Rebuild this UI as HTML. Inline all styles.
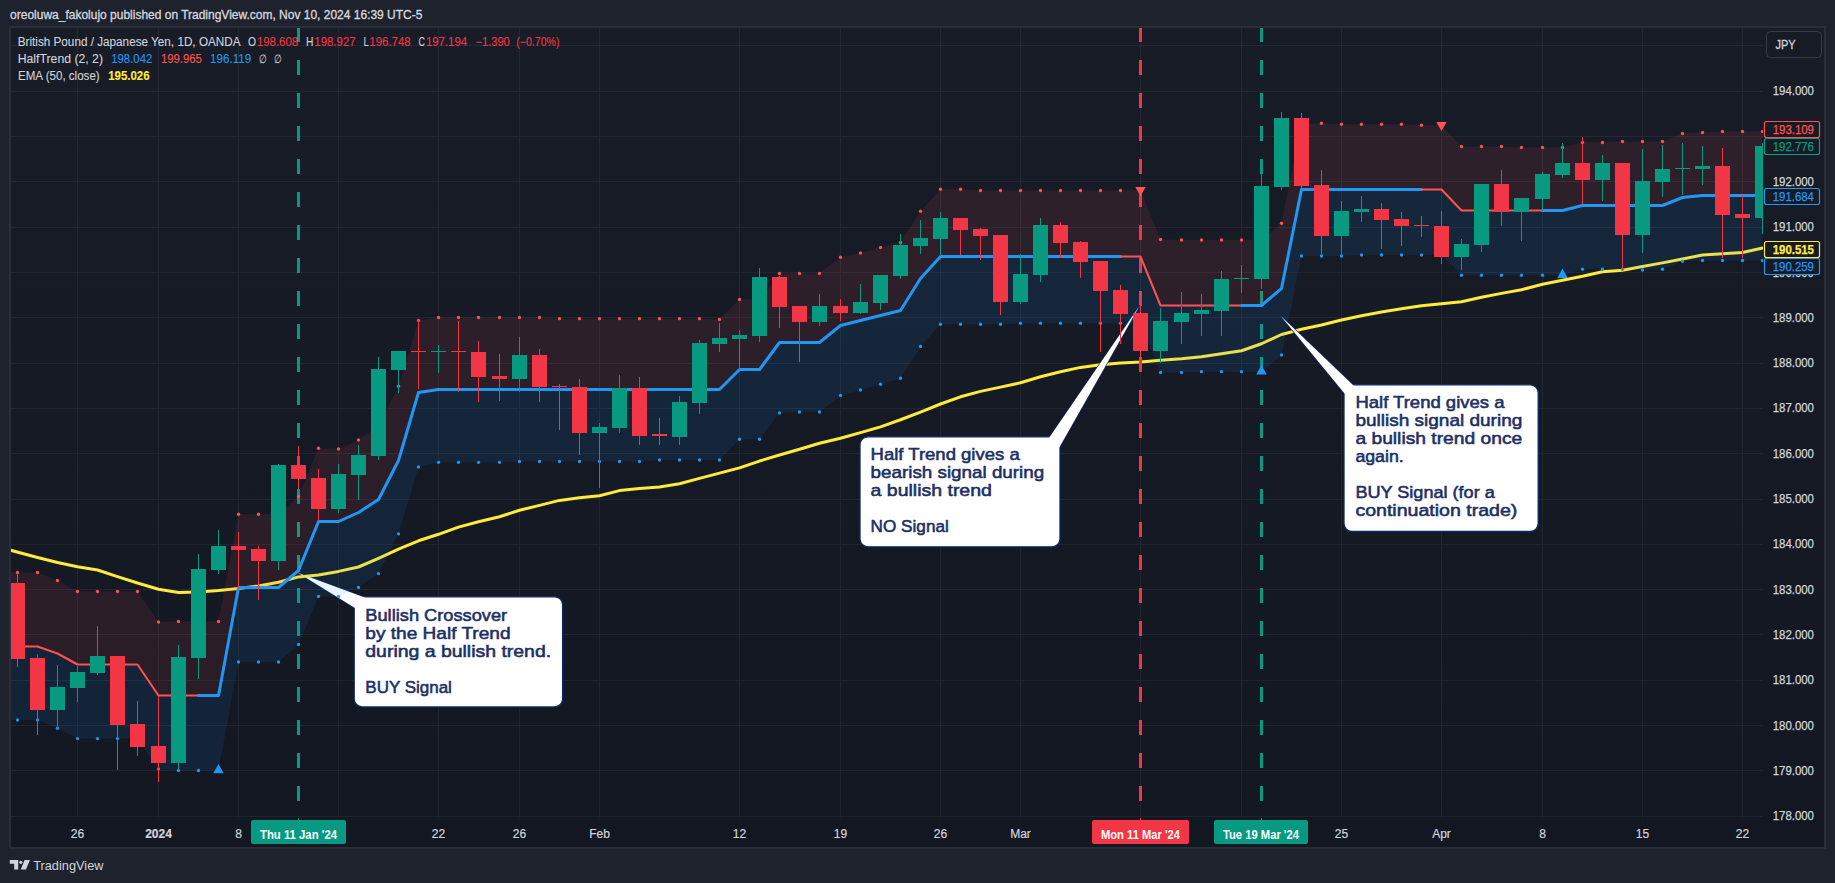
<!DOCTYPE html>
<html lang="en"><head><meta charset="utf-8"><title>GBPJPY HalfTrend chart</title>
<style>
html,body{margin:0;padding:0;background:#1e222d;}
body{width:1835px;height:883px;overflow:hidden;font-family:"Liberation Sans", sans-serif;}
svg{display:block;}
text{white-space:pre;}
</style></head><body>
<svg width="1835" height="883" viewBox="0 0 1835 883" font-family='"Liberation Sans", sans-serif'>
<defs><clipPath id="plot"><rect x="11" y="28" width="1752" height="790"/></clipPath><linearGradient id="bgg" x1="0" y1="0" x2="0" y2="1"><stop offset="0" stop-color="#181c27"/><stop offset="1" stop-color="#131722"/></linearGradient><clipPath id="plot2"><rect x="11" y="28" width="1752" height="820"/></clipPath></defs>
<rect width="1835" height="883" fill="#1e222d"/>
<rect x="10" y="27" width="1815" height="821" fill="url(#bgg)" stroke="#2a2e39" stroke-width="2"/>
<path d="M11 45h1752v1h-1752zM11 91h1752v1h-1752zM11 136h1752v1h-1752zM11 181h1752v1h-1752zM11 227h1752v1h-1752zM11 272h1752v1h-1752zM11 317h1752v1h-1752zM11 363h1752v1h-1752zM11 408h1752v1h-1752zM11 453h1752v1h-1752zM11 499h1752v1h-1752zM11 544h1752v1h-1752zM11 589h1752v1h-1752zM11 634h1752v1h-1752zM11 680h1752v1h-1752zM11 725h1752v1h-1752zM11 770h1752v1h-1752zM11 816h1752v1h-1752zM77 28h1v790h-1zM158 28h1v790h-1zM238 28h1v790h-1zM338 28h1v790h-1zM438 28h1v790h-1zM519 28h1v790h-1zM599 28h1v790h-1zM739 28h1v790h-1zM840 28h1v790h-1zM940 28h1v790h-1zM1020 28h1v790h-1zM1140 28h1v790h-1zM1241 28h1v790h-1zM1341 28h1v790h-1zM1441 28h1v790h-1zM1542 28h1v790h-1zM1642 28h1v790h-1zM1742 28h1v790h-1z" shape-rendering="crispEdges" fill="#f0f3fa" fill-opacity="0.06"/>
<g shape-rendering="crispEdges" fill="#089981"><rect x="297" y="28" width="3" height="14"/><rect x="297" y="60" width="3" height="15"/><rect x="297" y="93" width="3" height="15"/><rect x="297" y="126" width="3" height="15"/><rect x="297" y="159" width="3" height="15"/><rect x="297" y="192" width="3" height="15"/><rect x="297" y="225" width="3" height="15"/><rect x="297" y="258" width="3" height="15"/><rect x="297" y="291" width="3" height="15"/><rect x="297" y="324" width="3" height="15"/><rect x="297" y="357" width="3" height="15"/><rect x="297" y="390" width="3" height="15"/><rect x="297" y="423" width="3" height="15"/><rect x="297" y="456" width="3" height="15"/><rect x="297" y="489" width="3" height="15"/><rect x="297" y="522" width="3" height="15"/><rect x="297" y="555" width="3" height="15"/><rect x="297" y="588" width="3" height="15"/><rect x="297" y="621" width="3" height="15"/><rect x="297" y="654" width="3" height="15"/><rect x="297" y="687" width="3" height="15"/><rect x="297" y="720" width="3" height="15"/><rect x="297" y="753" width="3" height="15"/><rect x="297" y="786" width="3" height="15"/></g>
<polygon points="298.3,573.0 366,598 355,608" fill="#ffffff" stroke="#0f2764" stroke-width="1.3" stroke-linejoin="round"/>
<rect x="354.2" y="596.8" width="208.40000000000003" height="110.10000000000002" rx="8" ry="8" fill="#ffffff" stroke="#0f2764" stroke-width="1.3"/>
<polygon points="298.3,573.0 366,598 355,608" fill="#ffffff"/>
<g font-size="16.6" fill="#1b2f66" stroke="#1b2f66" stroke-width="0.55">
<text x="365.3" y="620.6" textLength="141.9" lengthAdjust="spacingAndGlyphs">Bullish Crossover</text>
<text x="365.3" y="638.6" textLength="145.2" lengthAdjust="spacingAndGlyphs">by the Half Trend</text>
<text x="365.3" y="656.6" textLength="185.8" lengthAdjust="spacingAndGlyphs">during a bullish trend.</text>
<text x="365.3" y="692.6" textLength="86.6" lengthAdjust="spacingAndGlyphs">BUY Signal</text>
</g>
<g clip-path="url(#plot)">
<polyline points="-10.0,545.00 10.8,550.30 37.5,557.50 57.5,562.50 77.5,566.70 97.5,570.00 117.5,576.60 137.5,583.00 158.5,589.20 178.5,592.60 198.5,591.90 218.5,590.50 238.5,588.60 258.5,586.00 278.5,582.20 298.5,576.90 318.5,575.00 338.5,571.40 358.5,567.00 378.5,558.30 398.5,549.10 418.5,540.80 438.5,534.30 458.5,527.10 478.5,521.70 499.5,516.80 519.5,510.30 539.5,505.40 559.5,500.40 579.5,497.80 599.5,495.70 619.5,490.60 639.5,488.50 659.5,487.00 679.5,483.75 699.5,478.40 719.5,473.10 739.5,467.90 759.5,461.05 779.5,455.05 799.5,449.30 819.5,443.30 840.5,438.30 860.5,432.60 880.5,426.85 900.5,419.75 920.5,412.05 940.5,404.00 960.5,396.80 980.5,391.40 1000.5,387.15 1020.5,382.80 1040.5,376.75 1060.5,371.75 1080.5,367.40 1100.5,364.70 1120.5,362.90 1140.5,362.10 1160.5,360.20 1181.5,358.70 1201.5,356.70 1221.5,353.75 1241.5,350.75 1261.5,343.75 1281.5,334.50 1301.5,329.25 1321.5,325.00 1341.5,320.00 1361.5,315.75 1381.5,312.00 1401.5,308.75 1421.5,305.75 1441.5,303.75 1461.5,301.75 1481.5,297.25 1501.5,293.40 1521.5,289.75 1542.5,284.25 1562.5,280.20 1582.5,276.25 1602.5,271.75 1622.5,270.20 1642.5,266.60 1662.5,262.90 1682.5,259.00 1702.5,255.00 1722.5,253.75 1742.5,252.50 1762.5,248.00 1775.0,244.50" fill="none" stroke="#ffeb3b" stroke-width="3" stroke-linejoin="round" stroke-linecap="round"/>
</g>
<g shape-rendering="crispEdges" fill="#f23645"><rect x="1139" y="28" width="3" height="14"/><rect x="1139" y="60" width="3" height="15"/><rect x="1139" y="93" width="3" height="15"/><rect x="1139" y="126" width="3" height="15"/><rect x="1139" y="159" width="3" height="15"/><rect x="1139" y="192" width="3" height="15"/><rect x="1139" y="225" width="3" height="15"/><rect x="1139" y="258" width="3" height="15"/><rect x="1139" y="291" width="3" height="15"/><rect x="1139" y="324" width="3" height="15"/><rect x="1139" y="357" width="3" height="15"/><rect x="1139" y="390" width="3" height="15"/><rect x="1139" y="423" width="3" height="15"/><rect x="1139" y="456" width="3" height="15"/><rect x="1139" y="489" width="3" height="15"/><rect x="1139" y="522" width="3" height="15"/><rect x="1139" y="555" width="3" height="15"/><rect x="1139" y="588" width="3" height="15"/><rect x="1139" y="621" width="3" height="15"/><rect x="1139" y="654" width="3" height="15"/><rect x="1139" y="687" width="3" height="15"/><rect x="1139" y="720" width="3" height="15"/><rect x="1139" y="753" width="3" height="15"/><rect x="1139" y="786" width="3" height="15"/></g>
<g shape-rendering="crispEdges" fill="#089981"><rect x="1260" y="28" width="3" height="14"/><rect x="1260" y="60" width="3" height="15"/><rect x="1260" y="93" width="3" height="15"/><rect x="1260" y="126" width="3" height="15"/><rect x="1260" y="159" width="3" height="15"/><rect x="1260" y="192" width="3" height="15"/><rect x="1260" y="225" width="3" height="15"/><rect x="1260" y="258" width="3" height="15"/><rect x="1260" y="291" width="3" height="15"/><rect x="1260" y="324" width="3" height="15"/><rect x="1260" y="357" width="3" height="15"/><rect x="1260" y="390" width="3" height="15"/><rect x="1260" y="423" width="3" height="15"/><rect x="1260" y="456" width="3" height="15"/><rect x="1260" y="489" width="3" height="15"/><rect x="1260" y="522" width="3" height="15"/><rect x="1260" y="555" width="3" height="15"/><rect x="1260" y="588" width="3" height="15"/><rect x="1260" y="621" width="3" height="15"/><rect x="1260" y="654" width="3" height="15"/><rect x="1260" y="687" width="3" height="15"/><rect x="1260" y="720" width="3" height="15"/><rect x="1260" y="753" width="3" height="15"/><rect x="1260" y="786" width="3" height="15"/></g>
<polygon points="1139.6,305.8 1049,438 1059,448" fill="#ffffff" stroke="#0f2764" stroke-width="1.3" stroke-linejoin="round"/>
<rect x="860.0" y="436.8" width="200.0" height="109.99999999999994" rx="8" ry="8" fill="#ffffff" stroke="#0f2764" stroke-width="1.3"/>
<polygon points="1139.6,305.8 1049,438 1059,448" fill="#ffffff"/>
<g font-size="16.6" fill="#1b2f66" stroke="#1b2f66" stroke-width="0.55">
<text x="870.6" y="460.3" textLength="149.1" lengthAdjust="spacingAndGlyphs">Half Trend gives a</text>
<text x="870.6" y="478.3" textLength="173.6" lengthAdjust="spacingAndGlyphs">bearish signal during</text>
<text x="870.6" y="496.3" textLength="121.3" lengthAdjust="spacingAndGlyphs">a bullish trend</text>
<text x="870.6" y="532.3" textLength="78.2" lengthAdjust="spacingAndGlyphs">NO Signal</text>
</g>
<polygon points="1280.8,316.0 1354,386 1345,394" fill="#ffffff" stroke="#0f2764" stroke-width="1.3" stroke-linejoin="round"/>
<rect x="1344.0" y="384.8" width="194.20000000000005" height="146.7" rx="8" ry="8" fill="#ffffff" stroke="#0f2764" stroke-width="1.3"/>
<polygon points="1280.8,316.0 1354,386 1345,394" fill="#ffffff"/>
<g font-size="16.6" fill="#1b2f66" stroke="#1b2f66" stroke-width="0.55">
<text x="1355.4" y="408.3" textLength="149.1" lengthAdjust="spacingAndGlyphs">Half Trend gives a</text>
<text x="1355.4" y="426.3" textLength="166.9" lengthAdjust="spacingAndGlyphs">bullish signal during</text>
<text x="1355.4" y="444.3" textLength="166.9" lengthAdjust="spacingAndGlyphs">a bullish trend once</text>
<text x="1355.4" y="462.3" textLength="48.3" lengthAdjust="spacingAndGlyphs">again.</text>
<text x="1355.4" y="498.3" textLength="139.4" lengthAdjust="spacingAndGlyphs">BUY Signal (for a</text>
<text x="1355.4" y="516.3" textLength="162.0" lengthAdjust="spacingAndGlyphs">continuation trade)</text>
</g>
<g clip-path="url(#plot)">
<polygon points="-2.5,646.50 17.5,646.50 37.5,646.50 57.5,653.50 77.5,664.50 97.5,664.50 117.5,664.50 137.5,664.50 158.5,695.50 178.5,695.50 198.5,695.50 218.5,695.50 238.5,587.50 258.5,587.50 278.5,587.50 298.5,570.50 318.5,521.50 338.5,521.50 358.5,512.50 378.5,499.50 398.5,460.50 418.5,392.50 438.5,389.50 458.5,389.50 478.5,389.50 499.5,389.50 519.5,389.50 539.5,389.50 559.5,389.50 579.5,389.50 599.5,389.50 619.5,389.50 639.5,389.50 659.5,389.50 679.5,389.50 699.5,389.50 719.5,389.50 739.5,369.50 759.5,369.50 779.5,342.50 799.5,342.50 819.5,342.50 840.5,325.50 860.5,320.50 880.5,315.50 900.5,310.50 920.5,278.50 940.5,256.50 960.5,256.50 980.5,256.50 1000.5,256.50 1020.5,256.50 1040.5,256.50 1060.5,256.50 1080.5,256.50 1100.5,256.50 1120.5,256.50 1140.5,256.50 1160.5,305.50 1181.5,305.50 1201.5,305.50 1221.5,305.50 1241.5,305.50 1261.5,305.50 1281.5,288.50 1301.5,189.50 1321.5,189.50 1341.5,189.50 1361.5,189.50 1381.5,189.50 1401.5,189.50 1421.5,189.50 1441.5,189.50 1461.5,210.50 1481.5,210.50 1501.5,210.50 1521.5,210.50 1542.5,210.50 1562.5,210.50 1582.5,205.50 1602.5,205.50 1622.5,205.50 1642.5,205.50 1662.5,205.50 1682.5,197.50 1702.5,195.50 1722.5,195.50 1742.5,195.50 1762.5,195.50 1762.5,131.50 1742.5,131.50 1722.5,131.50 1702.5,132.50 1682.5,133.50 1662.5,141.50 1642.5,141.50 1622.5,141.50 1602.5,142.50 1582.5,142.50 1562.5,147.50 1542.5,147.50 1521.5,147.50 1501.5,146.50 1481.5,146.50 1461.5,146.50 1441.5,125.50 1421.5,125.25 1401.5,124.25 1381.5,124.25 1361.5,124.25 1341.5,124.25 1321.5,123.25 1301.5,123.25 1281.5,223.25 1261.5,240.00 1241.5,240.00 1221.5,240.00 1201.5,240.00 1181.5,240.00 1160.5,239.50 1140.5,190.50 1120.5,190.50 1100.5,190.50 1080.5,190.50 1060.5,190.50 1040.5,190.50 1020.5,190.50 1000.5,190.50 980.5,190.50 960.5,189.25 940.5,189.25 920.5,211.25 900.5,242.50 880.5,247.50 860.5,253.00 840.5,257.25 819.5,273.50 799.5,273.50 779.5,273.50 759.5,299.50 739.5,299.50 719.5,319.50 699.5,318.70 679.5,318.70 659.5,318.70 639.5,318.70 619.5,318.70 599.5,318.70 579.5,318.70 559.5,318.70 539.5,317.50 519.5,317.50 499.5,317.50 478.5,317.50 458.5,317.50 438.5,317.50 418.5,320.50 398.5,386.25 378.5,426.00 358.5,440.00 338.5,449.00 318.5,448.25 298.5,496.50 278.5,514.25 258.5,514.25 238.5,514.25 218.5,621.50 198.5,621.50 178.5,621.50 158.5,622.00 137.5,591.50 117.5,591.50 97.5,591.50 77.5,591.50 57.5,580.50 37.5,572.50 17.5,572.50 -2.5,572.50" fill="rgb(255,82,82)" fill-opacity="0.1"/>
<polygon points="-2.5,646.50 17.5,646.50 37.5,646.50 57.5,653.50 77.5,664.50 97.5,664.50 117.5,664.50 137.5,664.50 158.5,695.50 178.5,695.50 198.5,695.50 218.5,695.50 238.5,587.50 258.5,587.50 278.5,587.50 298.5,570.50 318.5,521.50 338.5,521.50 358.5,512.50 378.5,499.50 398.5,460.50 418.5,392.50 438.5,389.50 458.5,389.50 478.5,389.50 499.5,389.50 519.5,389.50 539.5,389.50 559.5,389.50 579.5,389.50 599.5,389.50 619.5,389.50 639.5,389.50 659.5,389.50 679.5,389.50 699.5,389.50 719.5,389.50 739.5,369.50 759.5,369.50 779.5,342.50 799.5,342.50 819.5,342.50 840.5,325.50 860.5,320.50 880.5,315.50 900.5,310.50 920.5,278.50 940.5,256.50 960.5,256.50 980.5,256.50 1000.5,256.50 1020.5,256.50 1040.5,256.50 1060.5,256.50 1080.5,256.50 1100.5,256.50 1120.5,256.50 1140.5,256.50 1160.5,305.50 1181.5,305.50 1201.5,305.50 1221.5,305.50 1241.5,305.50 1261.5,305.50 1281.5,288.50 1301.5,189.50 1321.5,189.50 1341.5,189.50 1361.5,189.50 1381.5,189.50 1401.5,189.50 1421.5,189.50 1441.5,189.50 1461.5,210.50 1481.5,210.50 1501.5,210.50 1521.5,210.50 1542.5,210.50 1562.5,210.50 1582.5,205.50 1602.5,205.50 1622.5,205.50 1642.5,205.50 1662.5,205.50 1682.5,197.50 1702.5,195.50 1722.5,195.50 1742.5,195.50 1762.5,195.50 1762.5,260.50 1742.5,260.50 1722.5,260.50 1702.5,260.50 1682.5,261.25 1662.5,269.25 1642.5,270.00 1622.5,269.25 1602.5,269.25 1582.5,269.25 1562.5,275.25 1542.5,275.25 1521.5,275.25 1501.5,275.25 1481.5,275.25 1461.5,275.25 1441.5,255.00 1421.5,255.00 1401.5,255.00 1381.5,255.00 1361.5,255.00 1341.5,256.00 1321.5,256.00 1301.5,256.00 1281.5,355.00 1261.5,371.70 1241.5,371.70 1221.5,371.70 1201.5,371.70 1181.5,372.50 1160.5,372.50 1140.5,323.25 1120.5,323.25 1100.5,323.25 1080.5,323.25 1060.5,323.25 1040.5,323.25 1020.5,323.25 1000.5,324.25 980.5,324.25 960.5,324.25 940.5,324.25 920.5,346.50 900.5,378.25 880.5,384.25 860.5,390.00 840.5,395.50 819.5,412.00 799.5,412.00 779.5,413.00 759.5,439.25 739.5,439.25 719.5,460.00 699.5,460.00 679.5,460.00 659.5,460.00 639.5,461.50 619.5,461.50 599.5,461.50 579.5,461.50 559.5,461.50 539.5,461.50 519.5,461.50 499.5,462.30 478.5,462.30 458.5,462.30 438.5,462.30 418.5,467.00 398.5,533.80 378.5,573.60 358.5,587.50 338.5,596.40 318.5,596.40 298.5,644.50 278.5,662.00 258.5,662.00 238.5,662.00 218.5,770.50 198.5,770.50 178.5,770.50 158.5,769.00 137.5,738.60 117.5,738.60 97.5,738.60 77.5,738.60 57.5,728.25 37.5,720.00 17.5,720.00 -2.5,720.00" fill="rgb(33,150,243)" fill-opacity="0.1"/>
<g fill="#ff5252"><circle cx="17.5" cy="572.50" r="1.65"/><circle cx="37.5" cy="572.50" r="1.65"/><circle cx="57.5" cy="580.50" r="1.65"/><circle cx="77.5" cy="591.50" r="1.65"/><circle cx="97.5" cy="591.50" r="1.65"/><circle cx="117.5" cy="591.50" r="1.65"/><circle cx="137.5" cy="591.50" r="1.65"/><circle cx="158.5" cy="622.00" r="1.65"/><circle cx="178.5" cy="621.50" r="1.65"/><circle cx="198.5" cy="621.50" r="1.65"/><circle cx="218.5" cy="621.50" r="1.65"/><circle cx="238.5" cy="514.25" r="1.65"/><circle cx="258.5" cy="514.25" r="1.65"/><circle cx="278.5" cy="514.25" r="1.65"/><circle cx="298.5" cy="496.50" r="1.65"/><circle cx="318.5" cy="448.25" r="1.65"/><circle cx="338.5" cy="449.00" r="1.65"/><circle cx="358.5" cy="440.00" r="1.65"/><circle cx="378.5" cy="426.00" r="1.65"/><circle cx="398.5" cy="386.25" r="1.65"/><circle cx="418.5" cy="320.50" r="1.65"/><circle cx="438.5" cy="317.50" r="1.65"/><circle cx="458.5" cy="317.50" r="1.65"/><circle cx="478.5" cy="317.50" r="1.65"/><circle cx="499.5" cy="317.50" r="1.65"/><circle cx="519.5" cy="317.50" r="1.65"/><circle cx="539.5" cy="317.50" r="1.65"/><circle cx="559.5" cy="318.70" r="1.65"/><circle cx="579.5" cy="318.70" r="1.65"/><circle cx="599.5" cy="318.70" r="1.65"/><circle cx="619.5" cy="318.70" r="1.65"/><circle cx="639.5" cy="318.70" r="1.65"/><circle cx="659.5" cy="318.70" r="1.65"/><circle cx="679.5" cy="318.70" r="1.65"/><circle cx="699.5" cy="318.70" r="1.65"/><circle cx="719.5" cy="319.50" r="1.65"/><circle cx="739.5" cy="299.50" r="1.65"/><circle cx="759.5" cy="299.50" r="1.65"/><circle cx="779.5" cy="273.50" r="1.65"/><circle cx="799.5" cy="273.50" r="1.65"/><circle cx="819.5" cy="273.50" r="1.65"/><circle cx="840.5" cy="257.25" r="1.65"/><circle cx="860.5" cy="253.00" r="1.65"/><circle cx="880.5" cy="247.50" r="1.65"/><circle cx="900.5" cy="242.50" r="1.65"/><circle cx="920.5" cy="211.25" r="1.65"/><circle cx="940.5" cy="189.25" r="1.65"/><circle cx="960.5" cy="189.25" r="1.65"/><circle cx="980.5" cy="190.50" r="1.65"/><circle cx="1000.5" cy="190.50" r="1.65"/><circle cx="1020.5" cy="190.50" r="1.65"/><circle cx="1040.5" cy="190.50" r="1.65"/><circle cx="1060.5" cy="190.50" r="1.65"/><circle cx="1080.5" cy="190.50" r="1.65"/><circle cx="1100.5" cy="190.50" r="1.65"/><circle cx="1120.5" cy="190.50" r="1.65"/><circle cx="1160.5" cy="239.50" r="1.65"/><circle cx="1181.5" cy="240.00" r="1.65"/><circle cx="1201.5" cy="240.00" r="1.65"/><circle cx="1221.5" cy="240.00" r="1.65"/><circle cx="1241.5" cy="240.00" r="1.65"/><circle cx="1261.5" cy="240.00" r="1.65"/><circle cx="1281.5" cy="223.25" r="1.65"/><circle cx="1301.5" cy="123.25" r="1.65"/><circle cx="1321.5" cy="123.25" r="1.65"/><circle cx="1341.5" cy="124.25" r="1.65"/><circle cx="1361.5" cy="124.25" r="1.65"/><circle cx="1381.5" cy="124.25" r="1.65"/><circle cx="1401.5" cy="124.25" r="1.65"/><circle cx="1421.5" cy="125.25" r="1.65"/><circle cx="1461.5" cy="146.50" r="1.65"/><circle cx="1481.5" cy="146.50" r="1.65"/><circle cx="1501.5" cy="146.50" r="1.65"/><circle cx="1521.5" cy="147.50" r="1.65"/><circle cx="1542.5" cy="147.50" r="1.65"/><circle cx="1562.5" cy="147.50" r="1.65"/><circle cx="1582.5" cy="142.50" r="1.65"/><circle cx="1602.5" cy="142.50" r="1.65"/><circle cx="1622.5" cy="141.50" r="1.65"/><circle cx="1642.5" cy="141.50" r="1.65"/><circle cx="1662.5" cy="141.50" r="1.65"/><circle cx="1682.5" cy="133.50" r="1.65"/><circle cx="1702.5" cy="132.50" r="1.65"/><circle cx="1722.5" cy="131.50" r="1.65"/><circle cx="1742.5" cy="131.50" r="1.65"/><circle cx="1762.5" cy="131.50" r="1.65"/></g>
<g fill="#2196f3"><circle cx="17.5" cy="720.00" r="1.65"/><circle cx="37.5" cy="720.00" r="1.65"/><circle cx="57.5" cy="728.25" r="1.65"/><circle cx="77.5" cy="738.60" r="1.65"/><circle cx="97.5" cy="738.60" r="1.65"/><circle cx="117.5" cy="738.60" r="1.65"/><circle cx="137.5" cy="738.60" r="1.65"/><circle cx="158.5" cy="769.00" r="1.65"/><circle cx="178.5" cy="770.50" r="1.65"/><circle cx="198.5" cy="770.50" r="1.65"/><circle cx="238.5" cy="662.00" r="1.65"/><circle cx="258.5" cy="662.00" r="1.65"/><circle cx="278.5" cy="662.00" r="1.65"/><circle cx="298.5" cy="644.50" r="1.65"/><circle cx="318.5" cy="596.40" r="1.65"/><circle cx="338.5" cy="596.40" r="1.65"/><circle cx="358.5" cy="587.50" r="1.65"/><circle cx="378.5" cy="573.60" r="1.65"/><circle cx="398.5" cy="533.80" r="1.65"/><circle cx="418.5" cy="467.00" r="1.65"/><circle cx="438.5" cy="462.30" r="1.65"/><circle cx="458.5" cy="462.30" r="1.65"/><circle cx="478.5" cy="462.30" r="1.65"/><circle cx="499.5" cy="462.30" r="1.65"/><circle cx="519.5" cy="461.50" r="1.65"/><circle cx="539.5" cy="461.50" r="1.65"/><circle cx="559.5" cy="461.50" r="1.65"/><circle cx="579.5" cy="461.50" r="1.65"/><circle cx="599.5" cy="461.50" r="1.65"/><circle cx="619.5" cy="461.50" r="1.65"/><circle cx="639.5" cy="461.50" r="1.65"/><circle cx="659.5" cy="460.00" r="1.65"/><circle cx="679.5" cy="460.00" r="1.65"/><circle cx="699.5" cy="460.00" r="1.65"/><circle cx="719.5" cy="460.00" r="1.65"/><circle cx="739.5" cy="439.25" r="1.65"/><circle cx="759.5" cy="439.25" r="1.65"/><circle cx="779.5" cy="413.00" r="1.65"/><circle cx="799.5" cy="412.00" r="1.65"/><circle cx="819.5" cy="412.00" r="1.65"/><circle cx="840.5" cy="395.50" r="1.65"/><circle cx="860.5" cy="390.00" r="1.65"/><circle cx="880.5" cy="384.25" r="1.65"/><circle cx="900.5" cy="378.25" r="1.65"/><circle cx="920.5" cy="346.50" r="1.65"/><circle cx="940.5" cy="324.25" r="1.65"/><circle cx="960.5" cy="324.25" r="1.65"/><circle cx="980.5" cy="324.25" r="1.65"/><circle cx="1000.5" cy="324.25" r="1.65"/><circle cx="1020.5" cy="323.25" r="1.65"/><circle cx="1040.5" cy="323.25" r="1.65"/><circle cx="1060.5" cy="323.25" r="1.65"/><circle cx="1080.5" cy="323.25" r="1.65"/><circle cx="1100.5" cy="323.25" r="1.65"/><circle cx="1120.5" cy="323.25" r="1.65"/><circle cx="1140.5" cy="323.25" r="1.65"/><circle cx="1160.5" cy="372.50" r="1.65"/><circle cx="1181.5" cy="372.50" r="1.65"/><circle cx="1201.5" cy="371.70" r="1.65"/><circle cx="1221.5" cy="371.70" r="1.65"/><circle cx="1241.5" cy="371.70" r="1.65"/><circle cx="1281.5" cy="355.00" r="1.65"/><circle cx="1301.5" cy="256.00" r="1.65"/><circle cx="1321.5" cy="256.00" r="1.65"/><circle cx="1341.5" cy="256.00" r="1.65"/><circle cx="1361.5" cy="255.00" r="1.65"/><circle cx="1381.5" cy="255.00" r="1.65"/><circle cx="1401.5" cy="255.00" r="1.65"/><circle cx="1421.5" cy="255.00" r="1.65"/><circle cx="1441.5" cy="255.00" r="1.65"/><circle cx="1461.5" cy="275.25" r="1.65"/><circle cx="1481.5" cy="275.25" r="1.65"/><circle cx="1501.5" cy="275.25" r="1.65"/><circle cx="1521.5" cy="275.25" r="1.65"/><circle cx="1542.5" cy="275.25" r="1.65"/><circle cx="1582.5" cy="269.25" r="1.65"/><circle cx="1602.5" cy="269.25" r="1.65"/><circle cx="1622.5" cy="269.25" r="1.65"/><circle cx="1642.5" cy="270.00" r="1.65"/><circle cx="1662.5" cy="269.25" r="1.65"/><circle cx="1682.5" cy="261.25" r="1.65"/><circle cx="1702.5" cy="260.50" r="1.65"/><circle cx="1722.5" cy="260.50" r="1.65"/><circle cx="1742.5" cy="260.50" r="1.65"/><circle cx="1762.5" cy="260.50" r="1.65"/></g>
<polyline points="-2.5,646.50 17.5,646.50 37.5,646.50 57.5,653.50 77.5,664.50 97.5,664.50 117.5,664.50 137.5,664.50 158.5,695.50 178.5,695.50 198.5,695.50" fill="none" stroke="#ff5252" stroke-width="2" stroke-linejoin="round" stroke-linecap="round"/>
<polyline points="198.5,695.50 218.5,695.50 238.5,587.50 258.5,587.50 278.5,587.50 298.5,570.50 318.5,521.50 338.5,521.50 358.5,512.50 378.5,499.50 398.5,460.50 418.5,392.50 438.5,389.50 458.5,389.50 478.5,389.50 499.5,389.50 519.5,389.50 539.5,389.50 559.5,389.50 579.5,389.50 599.5,389.50 619.5,389.50 639.5,389.50 659.5,389.50 679.5,389.50 699.5,389.50 719.5,389.50 739.5,369.50 759.5,369.50 779.5,342.50 799.5,342.50 819.5,342.50 840.5,325.50 860.5,320.50 880.5,315.50 900.5,310.50 920.5,278.50 940.5,256.50 960.5,256.50 980.5,256.50 1000.5,256.50 1020.5,256.50 1040.5,256.50 1060.5,256.50 1080.5,256.50 1100.5,256.50 1120.5,256.50" fill="none" stroke="#2196f3" stroke-width="3" stroke-linejoin="round" stroke-linecap="round"/>
<polyline points="1120.5,256.50 1140.5,256.50 1160.5,305.50 1181.5,305.50 1201.5,305.50 1221.5,305.50 1241.5,305.50" fill="none" stroke="#ff5252" stroke-width="2" stroke-linejoin="round" stroke-linecap="round"/>
<polyline points="1241.5,305.50 1261.5,305.50 1281.5,288.50 1301.5,189.50 1321.5,189.50 1341.5,189.50 1361.5,189.50 1381.5,189.50 1401.5,189.50 1421.5,189.50" fill="none" stroke="#2196f3" stroke-width="3" stroke-linejoin="round" stroke-linecap="round"/>
<polyline points="1421.5,189.50 1441.5,189.50 1461.5,210.50 1481.5,210.50 1501.5,210.50 1521.5,210.50 1542.5,210.50" fill="none" stroke="#ff5252" stroke-width="2" stroke-linejoin="round" stroke-linecap="round"/>
<polyline points="1542.5,210.50 1562.5,210.50 1582.5,205.50 1602.5,205.50 1622.5,205.50 1642.5,205.50 1662.5,205.50 1682.5,197.50 1702.5,195.50 1722.5,195.50 1742.5,195.50 1762.5,195.50" fill="none" stroke="#2196f3" stroke-width="3" stroke-linejoin="round" stroke-linecap="round"/>
<polygon points="218.5,763.9 213.3,773.2 223.7,773.2" fill="#2196f3"/>
<polygon points="1562.5,268.6 1557.3,277.9 1567.7,277.9" fill="#2196f3"/>
<polygon points="1261.5,365.1 1256.3,374.4 1266.7,374.4" fill="#2196f3"/>
<polygon points="1140.5,196.1 1135.3,187.0 1145.7,187.0" fill="#ff5252"/>
<polygon points="1441.5,131.1 1436.3,122.0 1446.7,122.0" fill="#ff5252"/>
<g shape-rendering="crispEdges"><rect x="17" y="573" width="1" height="94" fill="#f23645"/><rect x="10" y="583" width="15" height="76" fill="#f23645"/><rect x="37" y="654" width="1" height="81" fill="#f23645"/><rect x="30" y="658" width="15" height="52" fill="#f23645"/><rect x="57" y="665" width="1" height="65" fill="#089981"/><rect x="50" y="687" width="15" height="23" fill="#089981"/><rect x="77" y="666" width="1" height="36" fill="#089981"/><rect x="70" y="672" width="15" height="16" fill="#089981"/><rect x="97" y="626" width="1" height="49" fill="#089981"/><rect x="90" y="656" width="15" height="17" fill="#089981"/><rect x="117" y="656" width="1" height="114" fill="#f23645"/><rect x="110" y="656" width="15" height="69" fill="#f23645"/><rect x="137" y="701" width="1" height="55" fill="#f23645"/><rect x="130" y="724" width="15" height="23" fill="#f23645"/><rect x="158" y="696" width="1" height="86" fill="#f23645"/><rect x="151" y="746" width="15" height="17" fill="#f23645"/><rect x="178" y="645" width="1" height="125" fill="#089981"/><rect x="171" y="657" width="15" height="106" fill="#089981"/><rect x="198" y="554" width="1" height="125" fill="#089981"/><rect x="191" y="569" width="15" height="89" fill="#089981"/><rect x="218" y="530" width="1" height="44" fill="#089981"/><rect x="211" y="546" width="15" height="24" fill="#089981"/><rect x="238" y="532" width="1" height="56" fill="#f23645"/><rect x="231" y="546" width="15" height="4" fill="#f23645"/><rect x="258" y="546" width="1" height="54" fill="#f23645"/><rect x="251" y="549" width="15" height="12" fill="#f23645"/><rect x="278" y="464" width="1" height="106" fill="#089981"/><rect x="271" y="465" width="15" height="96" fill="#089981"/><rect x="298" y="446" width="1" height="43" fill="#f23645"/><rect x="291" y="465" width="15" height="14" fill="#f23645"/><rect x="318" y="469" width="1" height="52" fill="#f23645"/><rect x="311" y="478" width="15" height="31" fill="#f23645"/><rect x="338" y="464" width="1" height="49" fill="#089981"/><rect x="331" y="474" width="15" height="35" fill="#089981"/><rect x="358" y="445" width="1" height="55" fill="#089981"/><rect x="351" y="455" width="15" height="20" fill="#089981"/><rect x="378" y="357" width="1" height="103" fill="#089981"/><rect x="371" y="369" width="15" height="87" fill="#089981"/><rect x="398" y="351" width="1" height="42" fill="#089981"/><rect x="391" y="351" width="15" height="19" fill="#089981"/><rect x="418" y="320" width="1" height="69" fill="#f23645"/><rect x="411" y="351" width="15" height="1" fill="#f23645"/><rect x="438" y="345" width="1" height="28" fill="#089981"/><rect x="431" y="351" width="15" height="1" fill="#089981"/><rect x="458" y="321" width="1" height="71" fill="#f23645"/><rect x="451" y="351" width="15" height="1" fill="#f23645"/><rect x="478" y="341" width="1" height="61" fill="#f23645"/><rect x="471" y="352" width="15" height="25" fill="#f23645"/><rect x="499" y="354" width="1" height="47" fill="#f23645"/><rect x="492" y="376" width="15" height="3" fill="#f23645"/><rect x="519" y="337" width="1" height="55" fill="#089981"/><rect x="512" y="355" width="15" height="24" fill="#089981"/><rect x="539" y="349" width="1" height="53" fill="#f23645"/><rect x="532" y="355" width="15" height="32" fill="#f23645"/><rect x="559" y="384" width="1" height="46" fill="#f23645"/><rect x="552" y="386" width="15" height="1" fill="#f23645"/><rect x="579" y="379" width="1" height="76" fill="#f23645"/><rect x="572" y="387" width="15" height="46" fill="#f23645"/><rect x="599" y="423" width="1" height="65" fill="#089981"/><rect x="592" y="427" width="15" height="6" fill="#089981"/><rect x="619" y="375" width="1" height="58" fill="#089981"/><rect x="612" y="388" width="15" height="40" fill="#089981"/><rect x="639" y="377" width="1" height="68" fill="#f23645"/><rect x="632" y="388" width="15" height="48" fill="#f23645"/><rect x="659" y="418" width="1" height="27" fill="#f23645"/><rect x="652" y="434" width="15" height="2" fill="#f23645"/><rect x="679" y="396" width="1" height="49" fill="#089981"/><rect x="672" y="402" width="15" height="35" fill="#089981"/><rect x="699" y="340" width="1" height="74" fill="#089981"/><rect x="692" y="343" width="15" height="60" fill="#089981"/><rect x="719" y="323" width="1" height="29" fill="#089981"/><rect x="712" y="338" width="15" height="6" fill="#089981"/><rect x="739" y="330" width="1" height="39" fill="#089981"/><rect x="732" y="335" width="15" height="4" fill="#089981"/><rect x="759" y="268" width="1" height="74" fill="#089981"/><rect x="752" y="277" width="15" height="59" fill="#089981"/><rect x="779" y="276" width="1" height="52" fill="#f23645"/><rect x="772" y="277" width="15" height="30" fill="#f23645"/><rect x="799" y="306" width="1" height="56" fill="#f23645"/><rect x="792" y="306" width="15" height="16" fill="#f23645"/><rect x="819" y="294" width="1" height="32" fill="#089981"/><rect x="812" y="306" width="15" height="16" fill="#089981"/><rect x="840" y="299" width="1" height="22" fill="#f23645"/><rect x="833" y="306" width="15" height="7" fill="#f23645"/><rect x="860" y="284" width="1" height="30" fill="#089981"/><rect x="853" y="302" width="15" height="11" fill="#089981"/><rect x="880" y="275" width="1" height="35" fill="#089981"/><rect x="873" y="275" width="15" height="28" fill="#089981"/><rect x="900" y="234" width="1" height="45" fill="#089981"/><rect x="893" y="245" width="15" height="31" fill="#089981"/><rect x="920" y="220" width="1" height="34" fill="#089981"/><rect x="913" y="238" width="15" height="8" fill="#089981"/><rect x="940" y="212" width="1" height="44" fill="#089981"/><rect x="933" y="218" width="15" height="21" fill="#089981"/><rect x="960" y="218" width="1" height="37" fill="#f23645"/><rect x="953" y="218" width="15" height="12" fill="#f23645"/><rect x="980" y="228" width="1" height="32" fill="#f23645"/><rect x="973" y="229" width="15" height="7" fill="#f23645"/><rect x="1000" y="235" width="1" height="80" fill="#f23645"/><rect x="993" y="235" width="15" height="67" fill="#f23645"/><rect x="1020" y="254" width="1" height="50" fill="#089981"/><rect x="1013" y="274" width="15" height="28" fill="#089981"/><rect x="1040" y="218" width="1" height="64" fill="#089981"/><rect x="1033" y="225" width="15" height="50" fill="#089981"/><rect x="1060" y="222" width="1" height="36" fill="#f23645"/><rect x="1053" y="225" width="15" height="18" fill="#f23645"/><rect x="1080" y="241" width="1" height="37" fill="#f23645"/><rect x="1073" y="242" width="15" height="20" fill="#f23645"/><rect x="1100" y="261" width="1" height="91" fill="#f23645"/><rect x="1093" y="261" width="15" height="30" fill="#f23645"/><rect x="1120" y="285" width="1" height="59" fill="#f23645"/><rect x="1113" y="290" width="15" height="24" fill="#f23645"/><rect x="1140" y="305" width="1" height="67" fill="#f23645"/><rect x="1133" y="313" width="15" height="38" fill="#f23645"/><rect x="1160" y="308" width="1" height="55" fill="#089981"/><rect x="1153" y="321" width="15" height="30" fill="#089981"/><rect x="1181" y="292" width="1" height="52" fill="#089981"/><rect x="1174" y="313" width="15" height="9" fill="#089981"/><rect x="1201" y="294" width="1" height="42" fill="#089981"/><rect x="1194" y="310" width="15" height="4" fill="#089981"/><rect x="1221" y="271" width="1" height="65" fill="#089981"/><rect x="1214" y="279" width="15" height="32" fill="#089981"/><rect x="1241" y="265" width="1" height="28" fill="#089981"/><rect x="1234" y="278" width="15" height="1" fill="#089981"/><rect x="1261" y="174" width="1" height="115" fill="#089981"/><rect x="1254" y="186" width="15" height="93" fill="#089981"/><rect x="1281" y="112" width="1" height="78" fill="#089981"/><rect x="1274" y="118" width="15" height="69" fill="#089981"/><rect x="1301" y="113" width="1" height="75" fill="#f23645"/><rect x="1294" y="118" width="15" height="68" fill="#f23645"/><rect x="1321" y="170" width="1" height="84" fill="#f23645"/><rect x="1314" y="185" width="15" height="51" fill="#f23645"/><rect x="1341" y="201" width="1" height="55" fill="#089981"/><rect x="1334" y="211" width="15" height="25" fill="#089981"/><rect x="1361" y="196" width="1" height="26" fill="#089981"/><rect x="1354" y="209" width="15" height="3" fill="#089981"/><rect x="1381" y="203" width="1" height="46" fill="#f23645"/><rect x="1374" y="209" width="15" height="11" fill="#f23645"/><rect x="1401" y="212" width="1" height="34" fill="#f23645"/><rect x="1394" y="219" width="15" height="7" fill="#f23645"/><rect x="1421" y="216" width="1" height="21" fill="#f23645"/><rect x="1414" y="225" width="15" height="1" fill="#f23645"/><rect x="1441" y="211" width="1" height="53" fill="#f23645"/><rect x="1434" y="226" width="15" height="31" fill="#f23645"/><rect x="1461" y="239" width="1" height="31" fill="#089981"/><rect x="1454" y="244" width="15" height="13" fill="#089981"/><rect x="1481" y="184" width="1" height="68" fill="#089981"/><rect x="1474" y="184" width="15" height="61" fill="#089981"/><rect x="1501" y="170" width="1" height="56" fill="#f23645"/><rect x="1494" y="184" width="15" height="28" fill="#f23645"/><rect x="1521" y="198" width="1" height="43" fill="#089981"/><rect x="1514" y="198" width="15" height="14" fill="#089981"/><rect x="1542" y="172" width="1" height="38" fill="#089981"/><rect x="1535" y="174" width="15" height="25" fill="#089981"/><rect x="1562" y="143" width="1" height="35" fill="#089981"/><rect x="1555" y="163" width="15" height="12" fill="#089981"/><rect x="1582" y="137" width="1" height="67" fill="#f23645"/><rect x="1575" y="163" width="15" height="17" fill="#f23645"/><rect x="1602" y="155" width="1" height="46" fill="#089981"/><rect x="1595" y="163" width="15" height="17" fill="#089981"/><rect x="1622" y="163" width="1" height="107" fill="#f23645"/><rect x="1615" y="163" width="15" height="72" fill="#f23645"/><rect x="1642" y="149" width="1" height="104" fill="#089981"/><rect x="1635" y="181" width="15" height="54" fill="#089981"/><rect x="1662" y="145" width="1" height="52" fill="#089981"/><rect x="1655" y="169" width="15" height="13" fill="#089981"/><rect x="1682" y="143" width="1" height="52" fill="#089981"/><rect x="1675" y="168" width="15" height="1" fill="#089981"/><rect x="1702" y="146" width="1" height="39" fill="#089981"/><rect x="1695" y="166" width="15" height="3" fill="#089981"/><rect x="1722" y="148" width="1" height="110" fill="#f23645"/><rect x="1715" y="166" width="15" height="49" fill="#f23645"/><rect x="1742" y="195" width="1" height="63" fill="#f23645"/><rect x="1735" y="214" width="15" height="4" fill="#f23645"/><rect x="1762" y="143" width="1" height="91" fill="#089981"/><rect x="1755" y="146" width="15" height="72" fill="#089981"/></g>
</g>
<g font-size="12" fill="#d1d4dc" stroke="#d1d4dc" stroke-width="0.25">
<text x="1772.7" y="95.2" textLength="41.3" lengthAdjust="spacingAndGlyphs">194.000</text>
<text x="1772.7" y="185.9" textLength="41.3" lengthAdjust="spacingAndGlyphs">192.000</text>
<text x="1772.7" y="231.2" textLength="41.3" lengthAdjust="spacingAndGlyphs">191.000</text>
<text x="1772.7" y="276.5" textLength="41.3" lengthAdjust="spacingAndGlyphs">190.000</text>
<text x="1772.7" y="321.8" textLength="41.3" lengthAdjust="spacingAndGlyphs">189.000</text>
<text x="1772.7" y="367.1" textLength="41.3" lengthAdjust="spacingAndGlyphs">188.000</text>
<text x="1772.7" y="412.4" textLength="41.3" lengthAdjust="spacingAndGlyphs">187.000</text>
<text x="1772.7" y="457.7" textLength="41.3" lengthAdjust="spacingAndGlyphs">186.000</text>
<text x="1772.7" y="503.0" textLength="41.3" lengthAdjust="spacingAndGlyphs">185.000</text>
<text x="1772.7" y="548.4" textLength="41.3" lengthAdjust="spacingAndGlyphs">184.000</text>
<text x="1772.7" y="593.7" textLength="41.3" lengthAdjust="spacingAndGlyphs">183.000</text>
<text x="1772.7" y="639.0" textLength="41.3" lengthAdjust="spacingAndGlyphs">182.000</text>
<text x="1772.7" y="684.3" textLength="41.3" lengthAdjust="spacingAndGlyphs">181.000</text>
<text x="1772.7" y="729.6" textLength="41.3" lengthAdjust="spacingAndGlyphs">180.000</text>
<text x="1772.7" y="774.9" textLength="41.3" lengthAdjust="spacingAndGlyphs">179.000</text>
<text x="1772.7" y="820.2" textLength="41.3" lengthAdjust="spacingAndGlyphs">178.000</text>
</g>
<rect x="1764.5" y="121.5" width="55" height="16" rx="2" ry="2" fill="#171b26" stroke="#ff5252" stroke-width="1.2"/>
<text x="1772.7" y="134.0" font-size="12" fill="#ff5252" stroke="#ff5252" stroke-width="0.25" textLength="41.3" lengthAdjust="spacingAndGlyphs">193.109</text>
<rect x="1764.5" y="138.5" width="55" height="16" rx="2" ry="2" fill="#171b26" stroke="#089981" stroke-width="1.2"/>
<text x="1772.7" y="151.0" font-size="12" fill="#089981" stroke="#089981" stroke-width="0.25" textLength="41.3" lengthAdjust="spacingAndGlyphs">192.776</text>
<rect x="1764.5" y="188.5" width="55" height="16" rx="2" ry="2" fill="#171b26" stroke="#2196f3" stroke-width="1.2"/>
<text x="1772.7" y="201.0" font-size="12" fill="#2196f3" stroke="#2196f3" stroke-width="0.25" textLength="41.3" lengthAdjust="spacingAndGlyphs">191.684</text>
<rect x="1764.5" y="258.5" width="55" height="16" rx="2" ry="2" fill="#171b26" stroke="#2196f3" stroke-width="1.2"/>
<text x="1772.7" y="271.0" font-size="12" fill="#2196f3" stroke="#2196f3" stroke-width="0.25" textLength="41.3" lengthAdjust="spacingAndGlyphs">190.259</text>
<rect x="1764.5" y="241.5" width="55" height="16" rx="2" ry="2" fill="#171b26" stroke="#ffeb3b" stroke-width="1.2"/>
<text x="1772.7" y="254.0" font-size="12" fill="#ffeb3b" stroke="#ffeb3b" stroke-width="0.25" font-weight="bold" textLength="41.3" lengthAdjust="spacingAndGlyphs">190.515</text>
<rect x="1766.5" y="31.5" width="55" height="26" rx="4" ry="4" fill="#171b26" stroke="#363a45" stroke-width="1"/>
<text x="1775.6" y="48.8" font-size="12" fill="#d1d4dc" stroke="#d1d4dc" stroke-width="0.3" textLength="20" lengthAdjust="spacingAndGlyphs">JPY</text>
<g font-size="12" fill="#d1d4dc" stroke="#d1d4dc" stroke-width="0.2" text-anchor="middle">
<text x="77.5" y="838.2">26</text>
<text x="158.5" y="838.2" font-weight="bold">2024</text>
<text x="238.5" y="838.2">8</text>
<text x="438.5" y="838.2">22</text>
<text x="519.5" y="838.2">26</text>
<text x="599.5" y="838.2">Feb</text>
<text x="739.5" y="838.2">12</text>
<text x="840.5" y="838.2">19</text>
<text x="940.5" y="838.2">26</text>
<text x="1020.5" y="838.2">Mar</text>
<text x="1341.5" y="838.2">25</text>
<text x="1441.5" y="838.2">Apr</text>
<text x="1542.5" y="838.2">8</text>
<text x="1642.5" y="838.2">15</text>
<text x="1742.5" y="838.2">22</text>
</g>
<rect x="251" y="820" width="95" height="24" rx="2" ry="2" fill="#089981"/>
<rect x="298" y="818" width="1" height="3" fill="#089981"/>
<text x="298.5" y="839.1" font-size="12" font-weight="bold" fill="#ffffff" text-anchor="middle" textLength="77" lengthAdjust="spacingAndGlyphs">Thu 11 Jan '24</text>
<rect x="1092" y="820" width="97" height="24" rx="2" ry="2" fill="#f23645"/>
<rect x="1140" y="818" width="1" height="3" fill="#f23645"/>
<text x="1140.5" y="839.1" font-size="12" font-weight="bold" fill="#ffffff" text-anchor="middle" textLength="79" lengthAdjust="spacingAndGlyphs">Mon 11 Mar '24</text>
<rect x="1214" y="820" width="94" height="24" rx="2" ry="2" fill="#089981"/>
<rect x="1261" y="818" width="1" height="3" fill="#089981"/>
<text x="1261.0" y="839.1" font-size="12" font-weight="bold" fill="#ffffff" text-anchor="middle" textLength="76" lengthAdjust="spacingAndGlyphs">Tue 19 Mar '24</text>
<g font-size="12" fill="#d1d4dc">
<text x="10.1" y="18.8" textLength="412.3" lengthAdjust="spacingAndGlyphs" stroke="#d1d4dc" stroke-width="0.35">oreoluwa_fakolujo published on TradingView.com, Nov 10, 2024 16:39 UTC-5</text>
<text x="17.7" y="46.0" textLength="222.9" lengthAdjust="spacingAndGlyphs" stroke="#d1d4dc" stroke-width="0.1">British Pound / Japanese Yen, 1D, OANDA</text>
<text x="248" y="46.0" textLength="8.0" lengthAdjust="spacingAndGlyphs" stroke="#d1d4dc" stroke-width="0.1">O</text>
<text x="256.9" y="46.0" textLength="41.3" lengthAdjust="spacingAndGlyphs" stroke="#f23645" stroke-width="0.1" fill="#f23645">198.608</text>
<text x="306" y="46.0" textLength="7.4" lengthAdjust="spacingAndGlyphs" stroke="#d1d4dc" stroke-width="0.1">H</text>
<text x="314.3" y="46.0" textLength="41.3" lengthAdjust="spacingAndGlyphs" stroke="#f23645" stroke-width="0.1" fill="#f23645">198.927</text>
<text x="363.4" y="46.0" textLength="5.2" lengthAdjust="spacingAndGlyphs" stroke="#d1d4dc" stroke-width="0.1">L</text>
<text x="369.3" y="46.0" textLength="41.4" lengthAdjust="spacingAndGlyphs" stroke="#f23645" stroke-width="0.1" fill="#f23645">196.748</text>
<text x="418.6" y="46.0" textLength="6.4" lengthAdjust="spacingAndGlyphs" stroke="#d1d4dc" stroke-width="0.1">C</text>
<text x="425.9" y="46.0" textLength="41.3" lengthAdjust="spacingAndGlyphs" stroke="#f23645" stroke-width="0.1" fill="#f23645">197.194</text>
<text x="475.5" y="46.0" textLength="34.3" lengthAdjust="spacingAndGlyphs" stroke="#f23645" stroke-width="0.1" fill="#f23645">−1.390</text>
<text x="516.3" y="46.0" textLength="43.1" lengthAdjust="spacingAndGlyphs" stroke="#f23645" stroke-width="0.1" fill="#f23645">(−0.70%)</text>
<text x="17.7" y="62.9" textLength="85.3" lengthAdjust="spacingAndGlyphs" stroke="#d1d4dc" stroke-width="0.1">HalfTrend (2, 2)</text>
<text x="111.2" y="62.9" textLength="41.2" lengthAdjust="spacingAndGlyphs" stroke="#2196f3" stroke-width="0.1" fill="#2196f3">198.042</text>
<text x="161" y="62.9" textLength="40.9" lengthAdjust="spacingAndGlyphs" stroke="#ff5252" stroke-width="0.1" fill="#ff5252">199.965</text>
<text x="210" y="62.9" textLength="41.3" lengthAdjust="spacingAndGlyphs" stroke="#2196f3" stroke-width="0.1" fill="#2196f3">196.119</text>
<text x="259.4" y="62.9" textLength="7.4" lengthAdjust="spacingAndGlyphs" stroke="#d1d4dc" stroke-width="0.1">∅</text>
<text x="274.2" y="62.9" textLength="7.3" lengthAdjust="spacingAndGlyphs" stroke="#d1d4dc" stroke-width="0.1">∅</text>
<text x="18" y="80.2" textLength="81.7" lengthAdjust="spacingAndGlyphs" stroke="#d1d4dc" stroke-width="0.1">EMA (50, close)</text>
<text x="108.2" y="80.2" textLength="41.4" lengthAdjust="spacingAndGlyphs" stroke="#ffeb3b" stroke-width="0.1" fill="#ffeb3b" font-weight="bold">195.026</text>
</g>
<g fill="#d1d4dc">
<path d="M9.8 860.1H18.2V869.4H14.2V863.7H9.8Z"/>
<circle cx="20.85" cy="862.3" r="1.6"/>
<path d="M24.6 860.1H29.9L26 869.4H20.7Z"/>
<text x="33.2" y="869.7" font-size="13" textLength="70.3" lengthAdjust="spacingAndGlyphs">TradingView</text>
</g>
</svg>
</body></html>
